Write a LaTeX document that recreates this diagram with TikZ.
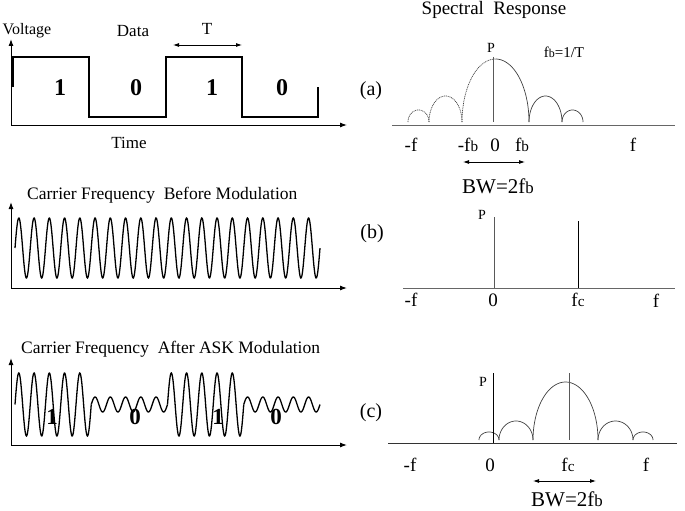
\documentclass[tikz,border=0pt]{standalone}
\usepackage{fontspec}
\setmainfont{Liberation Serif}
\usetikzlibrary{arrows.meta}
\newcommand\fsub[1]{#1\scalebox{0.8}{b}}
\newcommand\fcsub{f\scalebox{0.8}{c}}
\newcommand\lobeplot[5][]{\draw[#1] plot[domain=180:0,samples=60] ({(#2+#3)/2+(#3-#2)/2*cos(\x)},{#4-(#4-#5)*sin(\x)});}
\begin{document}
\begin{tikzpicture}[x=1pt,y=-1pt,
  txt/.style={inner sep=0pt, anchor=center, font=\fontsize{#1}{#1}\selectfont},
  txt/.default=17,
  bit/.style={inner sep=0pt, anchor=center, font=\fontsize{#1}{#1}\selectfont\bfseries},
  bit/.default=24,
  axisline/.style={line width=1pt, -{Latex[length=7pt,width=5pt]}},
  wave/.style={line width=1.3pt},
  specaxis/.style={line width=0.9pt, draw=black!60},
  specline/.style={line width=0.9pt, draw=black!65},
  lobe/.style={line width=0.7pt, draw=black!75},
  dlobe/.style={lobe, dash pattern=on 1pt off 0.8pt},
  dimarrow/.style={line width=0.8pt, {Latex[length=6pt,width=4pt]}-{Latex[length=6pt,width=4pt]}}
]
\useasboundingbox (0,0) rectangle (685,511);

% ================= Panel (a) left =================
\coordinate (a0) at (11,125);
\coordinate (ay) at (11,39);
\coordinate (ax) at (347,125);
\draw[axisline] (a0) -- (ay);
\draw[axisline] (a0) -- (ax);
\draw[wave, line width=1.2pt] (13,87) -- (13,57) -- (89,57) -- (89,117) -- (166,117) -- (166,57)
  -- (242,57) -- (242,117) -- (318,117) -- (318,87);
\node[txt=16] (volt) at (27,31) {Voltage};
\node[txt=17] (data) at (133,31) {Data};
\node[txt=17] (tlab) at (207,29) {T};
\coordinate (tL) at (173,45);
\coordinate (tR) at (242,45);
\draw[dimarrow] (tL) -- (tR);
\node[txt=17] (time) at (129,143) {Time};
\node[bit] (b1) at (60,88) {1};
\node[bit] (b2) at (136,88) {0};
\node[bit] (b3) at (212,88) {1};
\node[bit] (b4) at (282,88) {0};

% ================= Panel (a) right =================
\node[txt=19] (spec) at (494,10) {Spectral\ \ Response};
\node[txt=20] (pa) at (371,91) {(a)};
\coordinate (sa1) at (392,125);
\coordinate (sa2) at (675,125);
\draw[specaxis] (sa1) -- (sa2);
\lobeplot[dlobe]{408}{429}{122}{110}
\lobeplot[dlobe]{429}{462}{122}{96}
\draw[dlobe] plot[domain=180:90,samples=40] ({495.5+33.5*cos(\x)},{122-63*sin(\x)});
\draw[lobe] plot[domain=90:0,samples=40] ({495.5+33.5*cos(\x)},{122-63*sin(\x)});
\lobeplot[lobe]{529}{562}{122}{96}
\lobeplot[lobe]{562}{583}{122}{110}
\draw[specline] (493,57) -- (493,122);
\node[txt=14] (Pa) at (491,48) {P};
\node[txt=15] (fbdef) at (564,52) {\fsub{f}=1/T};
\node[txt=19] (la1) at (411,145) {-f};
\node[txt=19] (la2) at (468,145) {-\fsub{f}};
\node[txt=19] (la3) at (495,145) {0};
\node[txt=19] (la4) at (522,145) {\fsub{f}};
\node[txt=19] (la5) at (633,145) {f};
\coordinate (bwaL) at (463,162);
\coordinate (bwaR) at (525,162);
\draw[dimarrow] (bwaL) -- (bwaR);
\node[txt=21] (bwa) at (498,186) {BW=2\fsub{f}};

% ================= Panel (b) left =================
\node[txt=17.5, anchor=west] (carb) at (27,195) {Carrier Frequency\ \ Before Modulation};
\coordinate (b0) at (11,288);
\coordinate (by) at (11,202);
\coordinate (bx) at (347,288);
\draw[axisline] (b0) -- (by);
\draw[axisline] (b0) -- (bx);
\draw[wave] plot[domain=15:320,samples=700] (\x,{248-30*sin(23.6066*(\x-15))});

% ================= Panel (b) right =================
\node[txt=20] (pb) at (372,234) {(b)};
\coordinate (sb1) at (403,288);
\coordinate (sb2) at (675,288);
\draw[specaxis] (sb1) -- (sb2);
\draw[specline] (494,217) -- (494,288);
\draw[line width=0.8pt] (578,221) -- (578,288);
\node[txt=14] (Pb) at (482,215) {P};
\node[txt=19] (lb1) at (411,300) {-f};
\node[txt=19] (lb2) at (493,300) {0};
\node[txt=19] (lb3) at (578,300) {\fcsub};
\node[txt=19] (lb4) at (656,301) {f};

% ================= Panel (c) left =================
\node[txt=17.5, anchor=west] (carc) at (21,349) {Carrier Frequency\ \ After ASK Modulation};
\coordinate (c0) at (11,445);
\coordinate (cy) at (11,358);
\coordinate (cx) at (347,445);
\draw[axisline] (c0) -- (cy);
\draw[axisline] (c0) -- (cx);
\node[bit=23] (c1) at (52,417) {1};
\node[bit=23] (c2) at (135,417) {0};
\node[bit=23] (c3) at (218,417) {1};
\node[bit=23] (c4) at (276,417) {0};
\draw[wave] plot[domain=15:91.25,samples=180] (\x,{404.5-31.5*sin(23.6066*(\x-15))});
\draw[wave] plot[domain=91.25:167.5,samples=180] (\x,{404.5-7.5*sin(23.6066*(\x-15))});
\draw[wave] plot[domain=167.5:243.75,samples=180] (\x,{404.5-31.5*sin(23.6066*(\x-15))});
\draw[wave] plot[domain=243.75:320,samples=180] (\x,{404.5-7.5*sin(23.6066*(\x-15))});

% ================= Panel (c) right =================
\node[txt=20] (pc) at (371,413) {(c)};
\coordinate (sc1) at (388,443);
\coordinate (sc2) at (677,443);
\draw[specaxis, draw=black!80] (sc1) -- (sc2);
\lobeplot[lobe]{479}{499}{440}{432}
\lobeplot[lobe]{499}{533}{440}{421}
\lobeplot[lobe]{533}{598}{440}{382}
\lobeplot[lobe]{598}{633}{440}{421}
\lobeplot[lobe]{633}{653}{440}{432}
\draw[line width=0.8pt] (493,373) -- (493,443);
\draw[specline] (569,373) -- (569,440);
\node[txt=14] (Pc) at (483,382) {P};
\node[txt=19] (lc1) at (410,465) {-f};
\node[txt=19] (lc2) at (490,465) {0};
\node[txt=19] (lc3) at (568,465) {\fcsub};
\node[txt=19] (lc4) at (646,465) {f};
\coordinate (bwcL) at (533,481);
\coordinate (bwcR) at (596,481);
\draw[dimarrow] (bwcL) -- (bwcR);
\node[txt=21, anchor=base] (bwc) at (567,506) {BW=2\fsub{f}};
\end{tikzpicture}
\end{document}
